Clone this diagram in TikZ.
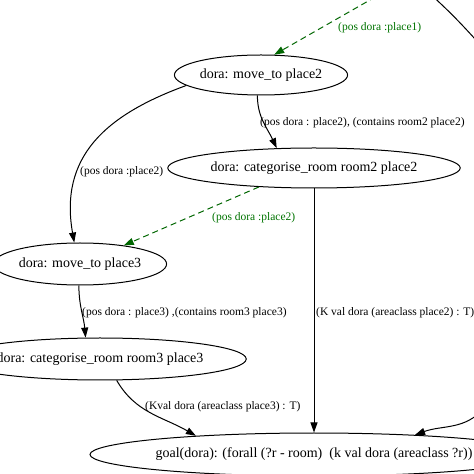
\documentclass[tikz,border=0pt]{standalone}
\usepackage{fontspec}
\setmainfont{Liberation Serif}
\usetikzlibrary{shapes.geometric,arrows.meta}

\begin{document}
\begin{tikzpicture}[x=1pt,y=1pt,
	act/.style={ellipse,draw,line width=1pt,inner sep=0pt,font=\fontsize{14}{16}\selectfont},
	lab/.style={inner sep=0pt,anchor=west,font=\fontsize{11.5}{13}\selectfont},
	glab/.style={lab,text=green!45!black},
	edge/.style={line width=1pt,-{Triangle[length=10pt,width=7pt]}},
	pre/.style={edge,color=green!40!black,dash pattern=on 6pt off 4pt}]
	\clip (0,0) rectangle (474,474);
	% actions
	\node[act,minimum width=168pt,minimum height=40pt] (A) at (261,399) {dora: move\_to place2};
	\node[act,minimum width=264pt,minimum height=40pt] (B) at (314,306) {dora: categorise\_room room2 place2};
	\node[act,minimum width=170pt,minimum height=42pt] (C) at (80,210) {dora: move\_to place3};
	\node[act,minimum width=266pt,minimum height=42pt] (D) at (100,115) {dora: categorise\_room room3 place3};
	\node[act,minimum width=396pt,minimum height=43pt] (goal) at (314,19.5)
		{goal(dora): (forall (?r - room)\ \ (k val dora (areaclass ?r))};
	% ends that leave the picture
	\coordinate (p1) at (384,482);
	\coordinate (t1) at (428,482);
	\coordinate (t2) at (485,424);
	\coordinate (r1) at (484,66);
	% edges
	\draw[pre] (p1) -- (A.57);
	\node[glab] (l0) at (338,446) {(pos dora :place1)};
	\draw[line width=1pt] (t1) to[out=-42,in=132] (t2);
	\draw[edge] (A.-100) to[out=-90,in=115] (B.152);
	\node[lab] (l1) at (260,351) {(pos dora : place2), (contains room2 place2)};
	\draw[edge] (A.188) to[out=200,in=100,looseness=1.15] (C.105);
	\node[lab] (l2) at (80,302) {(pos dora :place2)};
	\draw[pre] (B.199) -- (C.23);
	\node[glab] (l3) at (212,256) {(pos dora :place2)};
	\draw[edge] (C.-93) to[out=-90,in=95] (D.124);
	\node[lab] (l4) at (82,161) {(pos dora : place3) ,(contains room3 place3)};
	\draw[edge] (B.south) -- (goal.north);
	\node[lab] (l5) at (316,161) {(K val dora (areaclass place2) : T)};
	\draw[edge] (D.-52) to[out=-60,in=150] (goal.171);
	\node[lab] (l6) at (145,67) {(Kval dora (areaclass place3) : T)};
	\draw[edge] (r1) to[out=-130,in=20] (goal.11);
\end{tikzpicture}
\end{document}
